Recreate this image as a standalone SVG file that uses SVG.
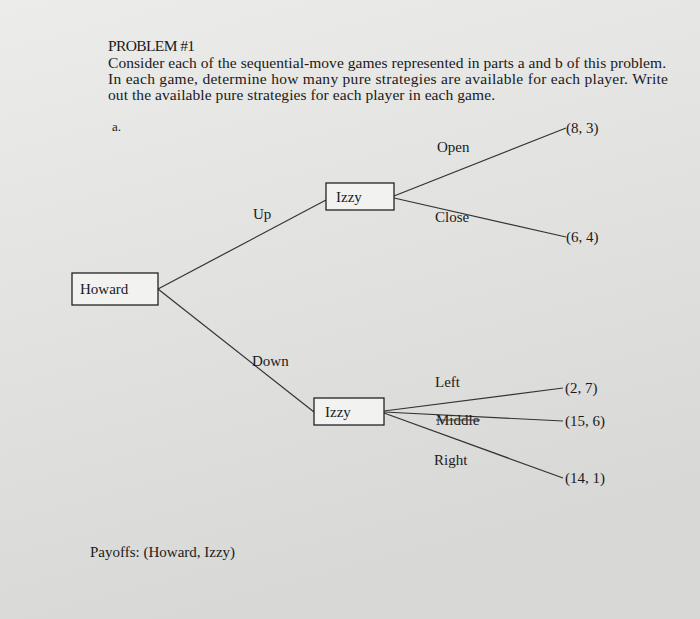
<svg xmlns="http://www.w3.org/2000/svg" width="700" height="619" viewBox="0 0 700 619">
<style>
text{font-family:"Liberation Serif",serif;font-size:15px;fill:#1a1a1a}
.t{font-size:15.5px}
.box{fill:#f2f2f0;stroke:#222;stroke-width:1.3}
.e{stroke:#333;stroke-width:1.2;fill:none}
</style>
<defs><linearGradient id="bg" x1="0" y1="0" x2="0.3" y2="1"><stop offset="0" stop-color="#ececea"/><stop offset="1" stop-color="#d8d8d6"/></linearGradient></defs>
<rect width="700" height="619" fill="url(#bg)"/>
<text class="t" x="108" y="51" textLength="87">PROBLEM #1</text>
<text class="t" x="108" y="68" textLength="558">Consider each of the sequential-move games represented in parts a and b of this problem.</text>
<text class="t" x="108" y="84" textLength="560">In each game, determine how many pure strategies are available for each player.  Write</text>
<text class="t" x="108" y="100" textLength="387">out the available pure strategies for each player in each game.</text>
<text x="112" y="131" style="font-size:13px">a.</text>
<g id="connectors">
<line class="e" x1="158" y1="289" x2="326" y2="200"/>
<line class="e" x1="158" y1="289" x2="314" y2="412"/>
<line class="e" x1="394" y1="196" x2="566" y2="128"/>
<line class="e" x1="394" y1="198" x2="566" y2="237"/>
<line class="e" x1="384" y1="411" x2="563" y2="388"/>
<line class="e" x1="384" y1="412" x2="563" y2="421"/>
<line class="e" x1="384" y1="413" x2="563" y2="478"/>
</g>
<g id="howard"><rect class="box" x="72" y="273" width="86" height="32"/><text x="80" y="294">Howard</text></g>
<g id="izzy1"><rect class="box" x="326" y="183" width="68" height="27"/><text x="336" y="202">Izzy</text></g>
<g id="izzy2"><rect class="box" x="314" y="398" width="70" height="27"/><text x="325" y="417">Izzy</text></g>
<g id="labels">
<text x="253" y="219">Up</text>
<text x="252" y="366">Down</text>
<text x="437" y="152">Open</text>
<text x="435" y="222">Close</text>
<text x="435" y="387">Left</text>
<text x="436" y="425">Middle</text>
<line x1="436" y1="420" x2="480" y2="420" stroke="#333" stroke-width="1.2"/>
<text x="434" y="465">Right</text>
<text x="566" y="133">(8, 3)</text>
<text x="566" y="242">(6, 4)</text>
<text x="565" y="393">(2, 7)</text>
<text x="565" y="426">(15, 6)</text>
<text x="565" y="483">(14, 1)</text>
</g>
<text x="90" y="557">Payoffs:  (Howard, Izzy)</text>
</svg>
